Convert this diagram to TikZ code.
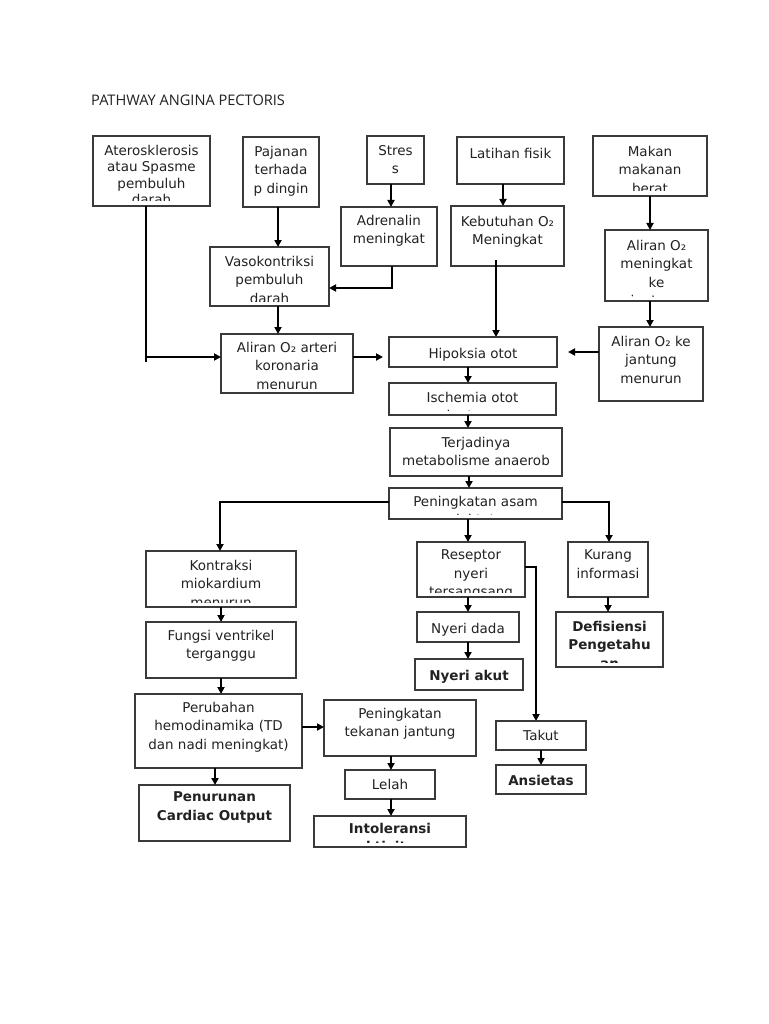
\documentclass[tikz,border=0pt]{standalone}
\usepackage{fontspec}
\setmainfont{DejaVu Sans}
\newfontfamily\titlefont{Open Sans}
\usetikzlibrary{calc,arrows.meta}
\definecolor{txtcol}{HTML}{222222}
\definecolor{boxcol}{HTML}{3A3A3A}
\tikzset{
  box/.style={draw=boxcol,line width=1.2pt,fill=white,inner sep=0pt,outer sep=0pt},
  txt/.style={draw=none,fill=none,align=center,inner sep=0pt,outer sep=0pt,minimum width=0pt,minimum height=0pt,text=txtcol,font=\fontsize{13.5}{18.5}\selectfont,execute at begin node=\strut},
  tight/.style={font=\fontsize{13.5}{16.5}\selectfont},
  bold/.style={font=\fontsize{13.5}{18.5}\selectfont\bfseries},
  conn/.style={line width=1.8pt,draw=black},
  arr/.style={conn,-{Triangle[length=7pt,width=7pt]}},
}
% #1 extra style, #2 name, #3 x1, #4 y1, #5 x2, #6 y2, #7 first line centre y, #8 text
\newcommand\bx[8][]{%
  \node[box,minimum width={(#5-#3)*1pt},minimum height={(#6-#4)*1pt},
    path picture={\clip (path picture bounding box.north west) rectangle ($(path picture bounding box.south east)+(0,-5)$);
      \node[txt,#1,anchor=north] at ($(path picture bounding box.north)+(0,{#7-5-#4})$) {#8};}]
    (#2) at ({(#3+#5)/2},{(#4+#6)/2}) {};}
\begin{document}
\begin{tikzpicture}[x=1pt,y=-1pt]
\useasboundingbox[fill=white] (0,0) rectangle (768,1024);
\node[anchor=base west,inner sep=0pt,text=txtcol,font=\titlefont\fontsize{14.6}{17}\selectfont] (title) at (91,106) {PATHWAY ANGINA PECTORIS};

\bx[tight]{atero}{93}{136}{210}{206}{150}{Aterosklerosis\\atau Spasme\\pembuluh\\darah}
\bx{pajanan}{243}{137}{319}{207}{151}{Pajanan\\terhada\\p dingin}
\bx{stres}{367}{136}{424}{184}{150}{Stres\\s}
\bx{adren}{341}{207}{437}{266}{220}{Adrenalin\\meningkat}
\bx{vaso}{210}{247}{329}{306}{261}{Vasokontriksi\\pembuluh\\darah}
\bx{latihan}{457}{137}{564}{184}{151}{Latihan fisik}
\bx{kebut}{451}{206}{564}{266}{221}{Kebutuhan O₂\\Meningkat}
\bx{makan}{593}{136}{707}{196}{151}{Makan\\makanan\\berat}
\bx{alirmen}{605}{230}{708}{301}{245}{Aliran O₂\\meningkat\\ke\\jantung}
\bx{arteri}{221}{334}{353}{393}{347}{Aliran O₂ arteri\\koronaria\\menurun}
\bx{hipo}{389}{337}{557}{367}{351}{Hipoksia otot}
\bx{jantung}{599}{327}{703}{401}{341}{Aliran O₂ ke\\jantung\\menurun}
\bx{isch}{389}{383}{556}{415}{397}{Ischemia otot\\jantung}
\bx{terjadi}{390}{428}{562}{476}{442}{Terjadinya\\metabolisme anaerob}
\bx{asam}{389}{488}{562}{519}{501}{Peningkatan asam\\laktat}
\bx{kontr}{146}{551}{296}{607}{565}{Kontraksi\\miokardium\\menurun}
\bx{fungsi}{146}{622}{296}{678}{635}{Fungsi ventrikel\\terganggu}
\bx{resep}{417}{542}{525}{597}{555}{Reseptor\\nyeri\\tersangsang}
\bx{kurang}{568}{542}{648}{597}{555}{Kurang\\informasi}
\bx[bold]{defis}{556}{612}{663}{667}{626}{Defisiensi\\Pengetahu\\an}
\bx{nyeri}{417}{612}{519}{642}{626}{Nyeri dada}
\bx[bold]{akut}{415}{659}{523}{690}{673}{Nyeri akut}
\bx{perub}{135}{694}{302}{768}{707}{Perubahan\\hemodinamika (TD\\dan nadi meningkat)}
\bx{tekan}{324}{700}{476}{756}{713}{Peningkatan\\tekanan jantung}
\bx{lelah}{345}{770}{435}{799}{782}{Lelah}
\bx[bold]{intol}{314}{816}{466}{847}{828}{Intoleransi\\aktivitas}
\bx[bold]{turun}{139}{785}{290}{841}{797}{Penurunan\\Cardiac Output}
\bx{takut}{496}{721}{586}{750}{733}{Takut}
\bx[bold]{ansi}{496}{765}{586}{794}{778}{Ansietas}

% connectors
\coordinate (aj) at (146,357);
\draw[conn] (atero.south -| aj) -- (146,362);
\draw[arr] (aj) -- (arteri.west |- aj);
\draw[arr] (pajanan.south -| 278,0) -- (vaso.north -| 278,0);
\draw[arr] (stres.south -| 391,0) -- (adren.north -| 391,0);
\draw[arr] (adren.south -| 392,0) |- (vaso.east |- 0,288);
\draw[arr] (vaso.south -| 278,0) -- (arteri.north -| 278,0);
\draw[arr,shorten >=6pt] (arteri.east |- 0,357) -- (hipo.west |- 0,357);
\draw[arr] (latihan.south -| 503,0) -- (kebut.north -| 503,0);
\coordinate (kb) at (496,260);
\draw[arr] (kb) -- (hipo.north -| kb);
\draw[arr] (makan.south -| 650,0) -- (alirmen.north -| 650,0);
\draw[arr] (alirmen.south -| 650,0) -- (jantung.north -| 650,0);
\draw[arr,shorten >=11pt] (jantung.west |- 0,352) -- (hipo.east |- 0,352);
\draw[arr] (hipo.south -| 468,0) -- (isch.north -| 468,0);
\draw[arr] (isch.south -| 468,0) -- (terjadi.north -| 468,0);
\draw[arr] (terjadi.south -| 469,0) -- (asam.north -| 469,0);
\draw[arr] (asam.west |- 0,502) -| (kontr.north -| 220,0);
\draw[arr] (asam.east |- 0,502) -| (kurang.north -| 609,0);
\draw[arr] (asam.south -| 468,0) -- (resep.north -| 468,0);
\draw[arr] (resep.south -| 468,0) -- (nyeri.north -| 468,0);
\draw[arr] (nyeri.south -| 468,0) -- (akut.north -| 468,0);
\draw[arr] (resep.east |- 0,567) -| (takut.north -| 536,0);
\draw[arr] (kurang.south -| 608,0) -- (defis.north -| 608,0);
\draw[arr] (kontr.south -| 221,0) -- (fungsi.north -| 221,0);
\draw[arr] (fungsi.south -| 221,0) -- (perub.north -| 221,0);
\draw[arr] (perub.south -| 215,0) -- (turun.north -| 215,0);
\draw[arr] (perub.east |- 0,727) -- (tekan.west |- 0,727);
\draw[arr] (tekan.south -| 391,0) -- (lelah.north -| 391,0);
\draw[arr] (lelah.south -| 391,0) -- (intol.north -| 391,0);
\draw[arr] (takut.south -| 541,0) -- (ansi.north -| 541,0);
\end{tikzpicture}
\end{document}
